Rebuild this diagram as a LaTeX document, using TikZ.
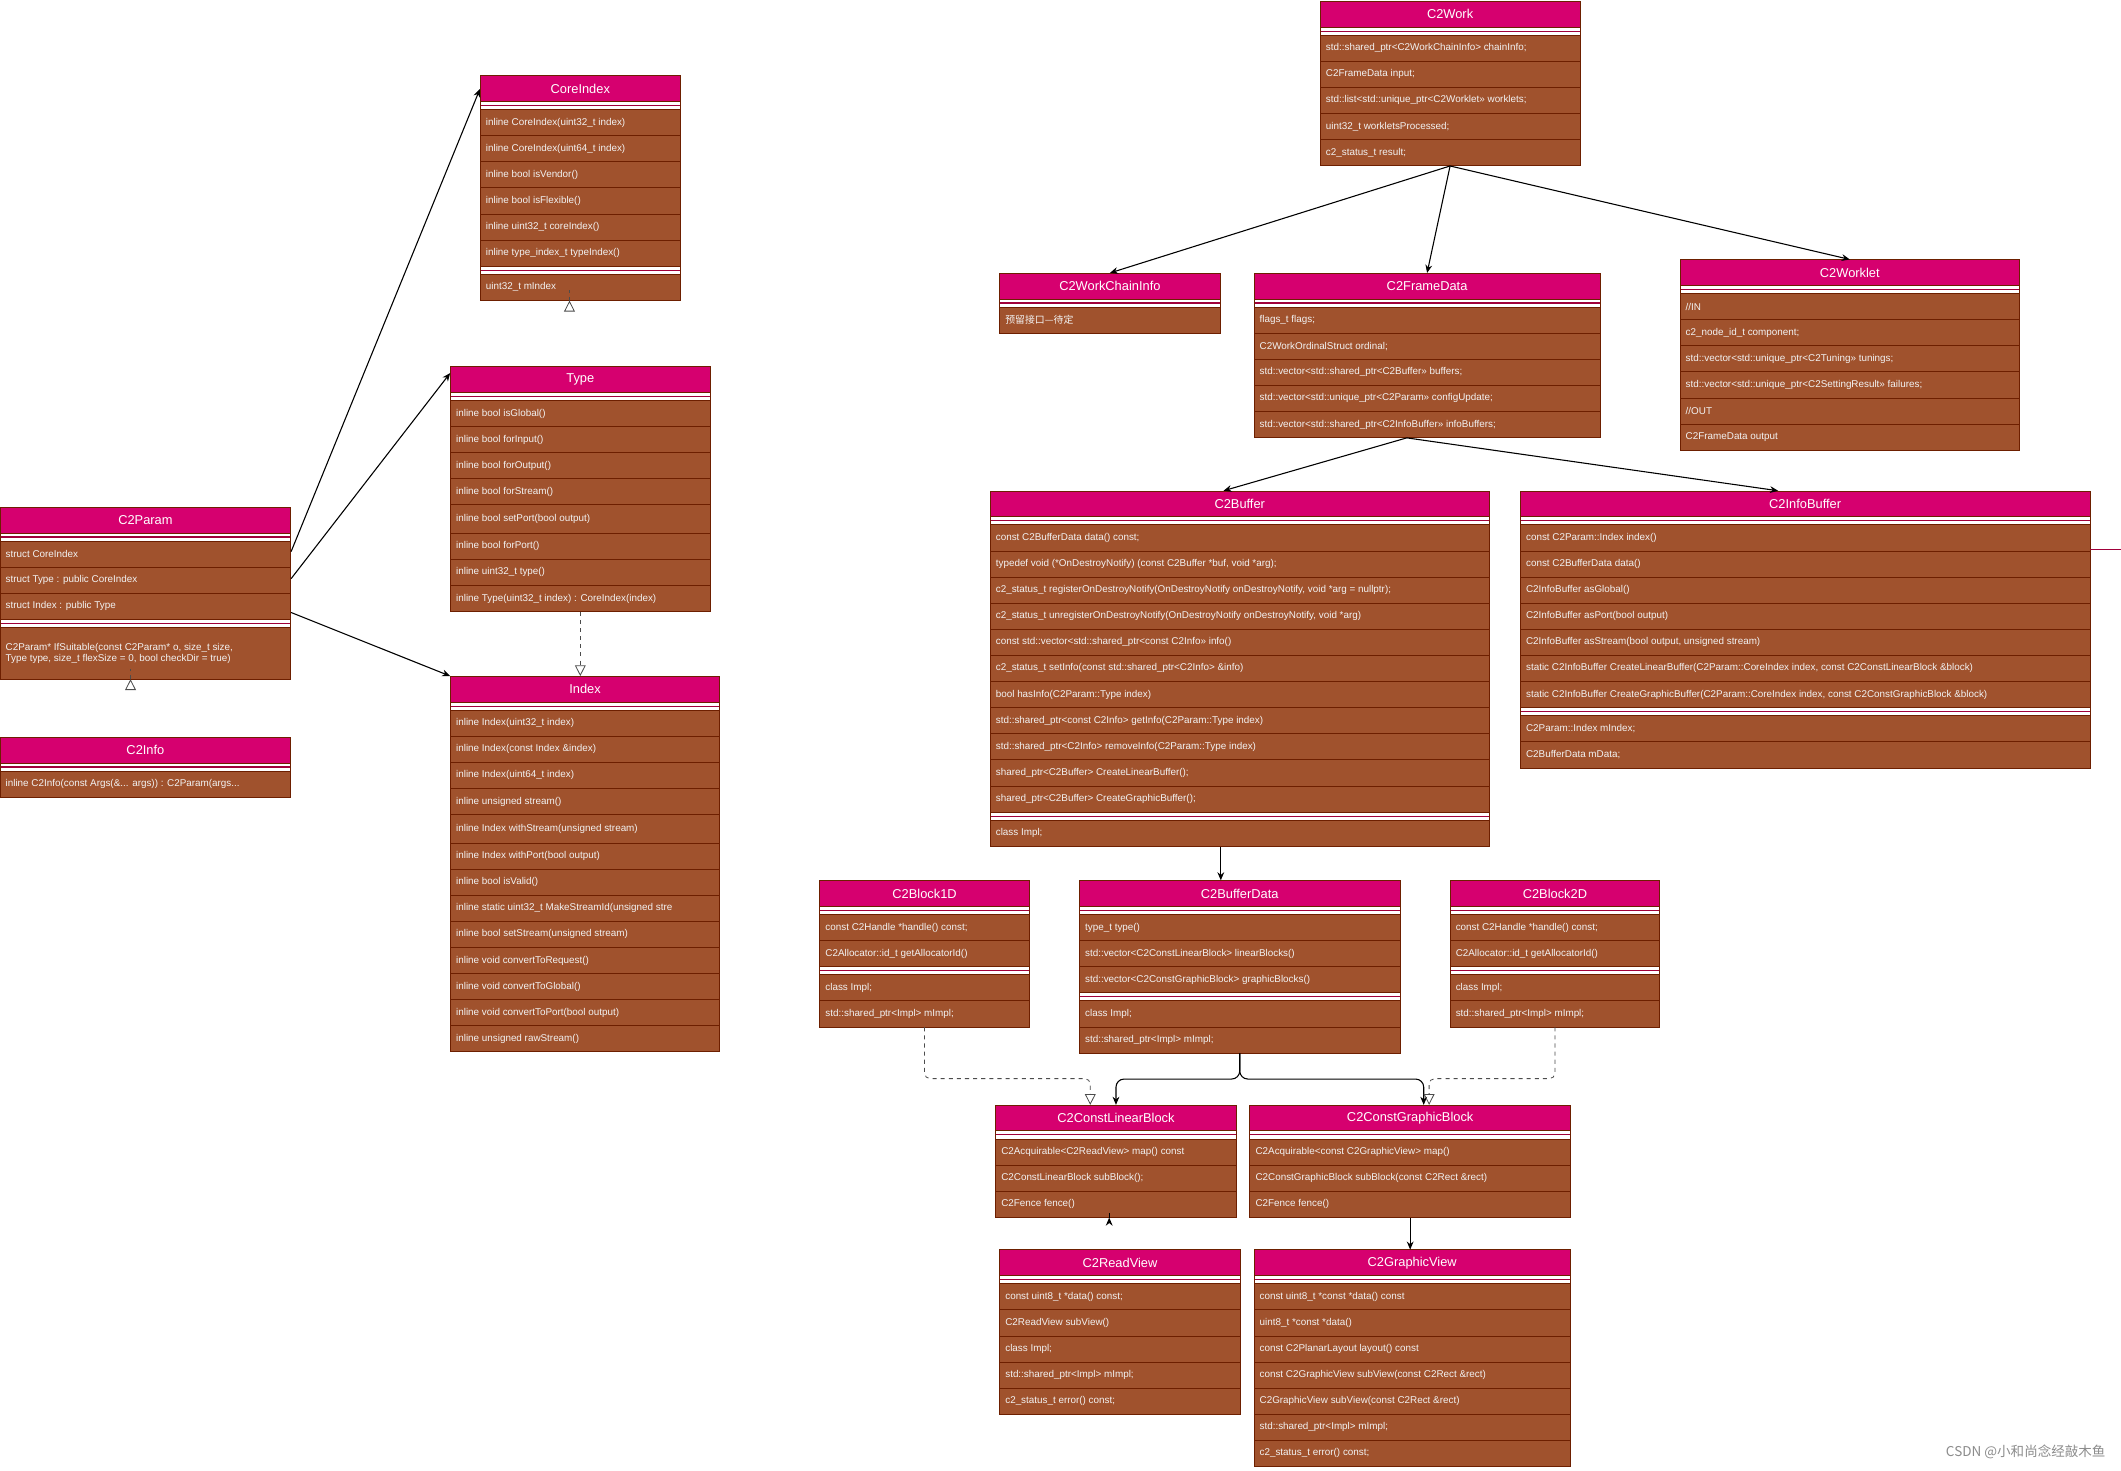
\documentclass[tikz,border=0pt]{standalone}
\usepackage{fontspec}
\setmainfont{Liberation Sans}
\newfontfamily\cjk{Noto Sans CJK SC}
\usetikzlibrary{calc,arrows.meta}
\definecolor{hdrc}{HTML}{D6006F}
\definecolor{bodyc}{HTML}{A0522D}
\definecolor{bordc}{HTML}{6D1F00}
\definecolor{sepc}{HTML}{A0003A}
\tikzset{
 hdr/.style={fill=hdrc},
 body/.style={fill=bodyc},
 bord/.style={draw=bordc,line width=0.6pt},
 htext/.style={text=white,font=\fontsize{9.5}{11}\selectfont,inner sep=0},
 rtext/.style={text=white!95!black,font=\fontsize{7.3}{8.5}\selectfont,inner sep=0,anchor=west},
 box/.style={inner sep=0,draw=none},
 assoc/.style={-{Stealth[length=6pt,width=5pt]},line width=0.8pt,black},
 inh/.style={-{Triangle[open,length=8pt,width=8pt]},dashed,line width=0.6pt,black!70},
 wm/.style={text=black!45,font=\cjk\fontsize{10}{12}\selectfont},
}
\newcommand\cls[5]{%
 \xdef\cx{#2}\xdef\cw{#4}\xdef\ctop{#3}\xdef\cname{#1}%
 \fill[hdr] (#2,#3) rectangle ++(#4,19);
 \draw[bordc,line width=0.6pt] (#2,#3) rectangle ++(#4,19);
 \node[htext] (#1-title) at ({#2+#4/2},{#3+9.5}) {#5};
 \pgfmathsetmacro\tmp{#3+19}\xdef\cy{\tmp}%
 \sep}
\newcommand\sep{%
 \fill[white] (\cx,\cy) rectangle ++(\cw,6);
 \draw[sepc,line width=0.8pt] (\cx,\cy+3) -- ++(\cw,0);
 \draw[bord] (\cx,\cy) rectangle ++(\cw,6);
 \pgfmathsetmacro\tmp{\cy+6}\xdef\cy{\tmp}}
\newcommand\rw[2][19.3]{%
 \fill[body] (\cx,\cy) rectangle ++(\cw,#1);
 \draw[bord] (\cx,\cy) rectangle ++(\cw,#1);
 \node[rtext] at ({\cx+4},{\cy+#1/2}) {#2};
 \pgfmathsetmacro\tmp{\cy+#1}\xdef\cy{\tmp}}
\newcommand\ecls{%
 \pgfmathsetmacro\hh{\cy-\ctop}%
 \pgfmathsetmacro\mx{\cx+\cw/2}\pgfmathsetmacro\my{(\cy+\ctop)/2}%
 \node[box,minimum width=\cw pt,minimum height=\hh pt] (\cname) at (\mx,\my) {};}
\begin{document}
\begin{tikzpicture}[x=1pt,y=-1pt]
\useasboundingbox[fill=white] (0,0) rectangle (1568,1087);

% C2Work
\cls{C2Work}{976}{1}{192}{C2Work}
\rw{std::shared\_ptr<C2WorkChainInfo> chainInfo;}
\rw{C2FrameData input;}
\rw{std::list<std::unique\_ptr<C2Worklet>> worklets;}
\rw{uint32\_t workletsProcessed;}
\rw{c2\_status\_t result;}
\ecls

% CoreIndex
\cls{CoreIndex}{355}{56}{148}{CoreIndex}
\rw{inline CoreIndex(uint32\_t index)}
\rw{inline CoreIndex(uint64\_t index)}
\rw{inline bool isVendor()}
\rw{inline bool isFlexible()}
\rw{inline uint32\_t coreIndex()}
\rw{inline type\_index\_t typeIndex()}
\sep
\rw{uint32\_t mIndex}
\ecls

% Type
\cls{Type}{333}{271}{192}{Type}
\rw{inline bool isGlobal()}
\rw{inline bool forInput()}
\rw{inline bool forOutput()}
\rw{inline bool forStream()}
\rw[21]{inline bool setPort(bool output)}
\rw{inline bool forPort()}
\rw{inline uint32\_t type()}
\rw{inline Type(uint32\_t index) : CoreIndex(index)}
\ecls

% Index
\cls{Index}{333}{500}{199}{Index}
\rw{inline Index(uint32\_t index)}
\rw{inline Index(const Index \&index)}
\rw{inline Index(uint64\_t index)}
\rw{inline unsigned stream()}
\rw[21]{inline Index withStream(unsigned stream)}
\rw{inline Index withPort(bool output)}
\rw{inline bool isValid()}
\rw{inline static uint32\_t MakeStreamId(unsigned stre}
\rw{inline bool setStream(unsigned stream)}
\rw{inline void convertToRequest()}
\rw{inline void convertToGlobal()}
\rw{inline void convertToPort(bool output)}
\rw{inline unsigned rawStream()}
\ecls

% C2Param
\cls{C2Param}{0}{375}{215}{C2Param}
\rw{struct CoreIndex}
\rw{struct Type : public CoreIndex}
\rw{struct Index : public Type}
\sep
\fill[body] (\cx,\cy) rectangle ++(\cw,38);
\draw[bord] (\cx,\cy) rectangle ++(\cw,38);
\node[rtext,align=left] at ({\cx+4},{\cy+19}) {C2Param* IfSuitable(const C2Param* o, size\_t size,\\Type type, size\_t flexSize = 0, bool checkDir = true)};
\pgfmathsetmacro\tmp{\cy+38}\xdef\cy{\tmp}
\ecls

% C2Info
\cls{C2Info}{0}{545}{215}{C2Info}
\rw{inline C2Info(const Args(\&... args)) : C2Param(args...}
\ecls

% C2WorkChainInfo
\cls{C2WorkChainInfo}{739}{202}{163}{C2WorkChainInfo}
\rw{\cjk 预留接口—待定}
\ecls

% C2FrameData
\cls{C2FrameData}{927}{202}{256}{C2FrameData}
\rw{flags\_t flags;}
\rw{C2WorkOrdinalStruct ordinal;}
\rw{std::vector<std::shared\_ptr<C2Buffer>> buffers;}
\rw{std::vector<std::unique\_ptr<C2Param>> configUpdate;}
\rw{std::vector<std::shared\_ptr<C2InfoBuffer>> infoBuffers;}
\ecls

% C2Worklet
\cls{C2Worklet}{1242}{192}{251}{C2Worklet}
\rw{//IN}
\rw{c2\_node\_id\_t component;}
\rw{std::vector<std::unique\_ptr<C2Tuning>> tunings;}
\rw{std::vector<std::unique\_ptr<C2SettingResult>> failures;}
\rw{//OUT}
\rw{C2FrameData  output}
\ecls

% C2Buffer
\cls{C2Buffer}{732}{363}{369}{C2Buffer}
\rw{const C2BufferData data() const;}
\rw{typedef void (*OnDestroyNotify) (const C2Buffer *buf, void *arg);}
\rw{c2\_status\_t registerOnDestroyNotify(OnDestroyNotify onDestroyNotify, void *arg = nullptr);}
\rw{c2\_status\_t unregisterOnDestroyNotify(OnDestroyNotify onDestroyNotify, void *arg)}
\rw{const std::vector<std::shared\_ptr<const C2Info>> info()}
\rw{ c2\_status\_t setInfo(const std::shared\_ptr<C2Info> \&info)}
\rw{bool hasInfo(C2Param::Type index)}
\rw{std::shared\_ptr<const C2Info> getInfo(C2Param::Type index)}
\rw{std::shared\_ptr<C2Info> removeInfo(C2Param::Type index)}
\rw{shared\_ptr<C2Buffer> CreateLinearBuffer();}
\rw{shared\_ptr<C2Buffer> CreateGraphicBuffer();}
\sep
\rw{class Impl;}
\ecls

% C2InfoBuffer
\cls{C2InfoBuffer}{1124}{363}{421}{C2InfoBuffer}
\rw{const C2Param::Index index()}
\rw{const C2BufferData data()}
\rw{C2InfoBuffer asGlobal()}
\rw{C2InfoBuffer asPort(bool output)}
\rw{C2InfoBuffer asStream(bool output, unsigned stream)}
\rw{static C2InfoBuffer CreateLinearBuffer(C2Param::CoreIndex index, const C2ConstLinearBlock \&block)}
\rw{static C2InfoBuffer CreateGraphicBuffer(C2Param::CoreIndex index, const C2ConstGraphicBlock \&block)}
\sep
\rw{C2Param::Index mIndex;}
\rw{C2BufferData mData;}
\ecls
\draw[sepc,line width=0.6pt] (1545,406) -- (1568,406);

% C2Block1D
\cls{C2Block1D}{606}{651}{155}{C2Block1D}
\rw{const C2Handle *handle() const;}
\rw{C2Allocator::id\_t getAllocatorId()}
\sep
\rw{class Impl;}
\rw{std::shared\_ptr<Impl> mImpl;}
\ecls

% C2BufferData
\cls{C2BufferData}{798}{651}{237}{C2BufferData}
\rw{type\_t type()}
\rw{std::vector<C2ConstLinearBlock> linearBlocks()}
\rw{std::vector<C2ConstGraphicBlock> graphicBlocks()}
\sep
\rw{class Impl;}
\rw{std::shared\_ptr<Impl> mImpl;}
\ecls

% C2Block2D
\cls{C2Block2D}{1072}{651}{155}{C2Block2D}
\rw{const C2Handle *handle() const;}
\rw{C2Allocator::id\_t getAllocatorId()}
\sep
\rw{class Impl;}
\rw{std::shared\_ptr<Impl> mImpl;}
\ecls

% C2ConstLinearBlock
\cls{C2ConstLinearBlock}{736}{817}{178}{C2ConstLinearBlock}
\rw{C2Acquirable<C2ReadView> map() const}
\rw{C2ConstLinearBlock subBlock();}
\rw{C2Fence fence()}
\ecls

% C2ConstGraphicBlock
\cls{C2ConstGraphicBlock}{924}{817}{237}{C2ConstGraphicBlock}
\rw{C2Acquirable<const C2GraphicView> map()}
\rw{C2ConstGraphicBlock subBlock(const C2Rect \&rect)}
\rw{C2Fence fence()}
\ecls

% C2ReadView
\cls{C2ReadView}{739}{924}{178}{C2ReadView}
\rw{const uint8\_t *data() const;}
\rw{C2ReadView subView()}
\rw{class Impl;}
\rw{std::shared\_ptr<Impl> mImpl;}
\rw{c2\_status\_t error() const;}
\ecls

% C2GraphicView
\cls{C2GraphicView}{927}{924}{234}{C2GraphicView}
\rw{const uint8\_t *const *data() const}
\rw{uint8\_t *const *data()}
\rw{const C2PlanarLayout layout() const}
\rw{const C2GraphicView subView(const C2Rect \&rect)}
\rw{C2GraphicView subView(const C2Rect \&rect)}
\rw{std::shared\_ptr<Impl> mImpl;}
\rw{c2\_status\_t error() const;}
\ecls

% connectors
\draw[assoc] (C2Work.south) -- (C2WorkChainInfo.north);
\draw[assoc] (C2Work.south) -- (C2FrameData.north);
\draw[assoc] (C2Work.south) -- (C2Worklet.north);
\draw[assoc] ($(C2FrameData.south)-(15,0)$) -- ($(C2Buffer.north)-(12,0)$);
\draw[assoc] ($(C2FrameData.south)-(15,0)$) -- ($(C2InfoBuffer.north)-(20,0)$);
\draw[assoc] ($(C2Buffer.south)-(14,0)$) -- ($(C2BufferData.north)-(14,0)$);
\draw[assoc,rounded corners=6pt] (C2BufferData.south) -- ++(0,19) -| (C2ConstLinearBlock.north);
\draw[assoc,rounded corners=6pt] (C2BufferData.south) -- ++(0,19) -| ($(C2ConstGraphicBlock.north)+(10,0)$);
\draw[inh,rounded corners=4pt] (C2Block1D.south) -- ++(0,38) -| ($(C2ConstLinearBlock.north)-(19,0)$);
\draw[inh,rounded corners=4pt] ($(C2Block2D.south)+(0,0)$) -- ++(0,38) -| ($(C2ConstGraphicBlock.north)+(14,0)$);
\draw[assoc] ($(C2ConstLinearBlock.south)-(5,0)$) -- ($(C2ConstLinearBlock.south)-(5,0)$ |- C2ReadView.north);
\draw[assoc] (C2ConstGraphicBlock.south) -- (C2GraphicView.north -| C2ConstGraphicBlock.south);
\draw[inh] ($(CoreIndex.south)-(8,0)$) -- ($(CoreIndex.south)-(8,0)$ |- Type.north);
\draw[inh] (Type.south) -- (Type.south |- Index.north);
\draw[inh] ($(C2Param.south)-(11,0)$) -- ($(C2Param.south)-(11,0)$ |- C2Info.north);
\draw[assoc] ($(C2Param.north east)+(0,33)$) -- ($(CoreIndex.north west)+(0,10)$);
\draw[assoc] ($(C2Param.north east)+(0,53)$) -- ($(Type.north west)+(0,5)$);
\draw[assoc] ($(C2Param.north east)+(0,78)$) -- (Index.north west);

\node[wm,anchor=east] (wm) at (1560,1073) {CSDN @小和尚念经敲木鱼};
\end{tikzpicture}
\end{document}
